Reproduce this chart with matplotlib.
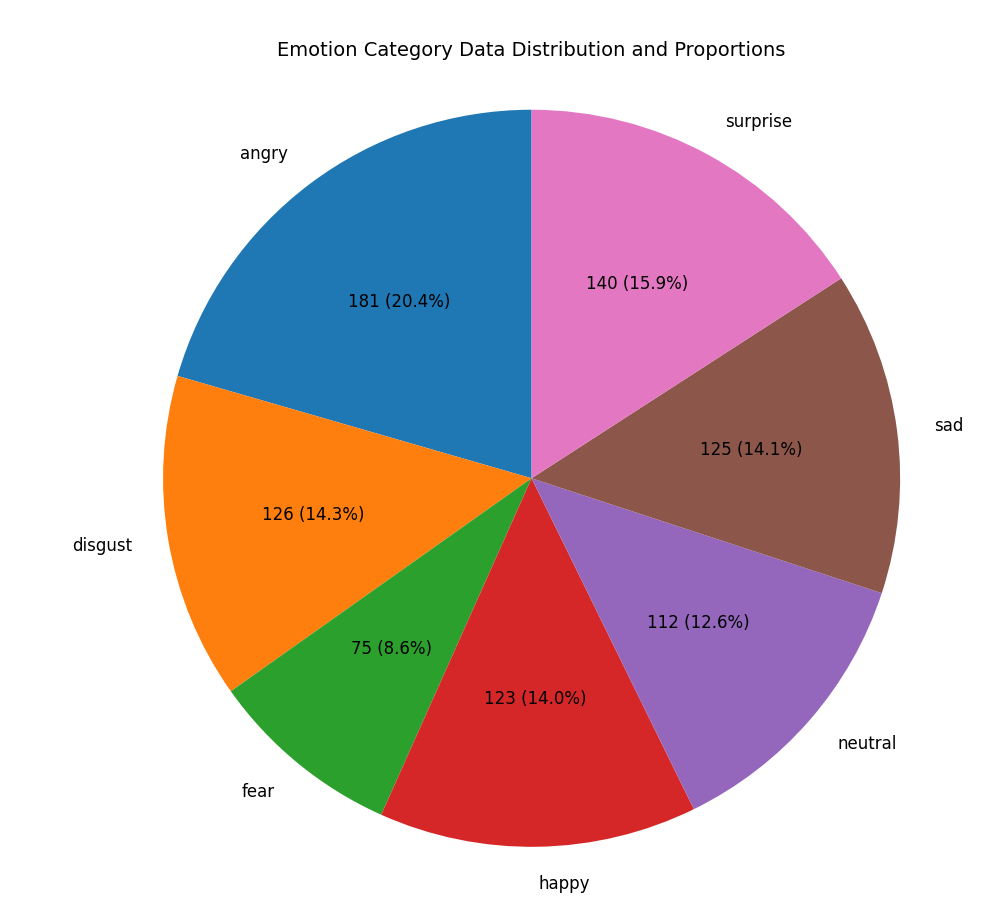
import matplotlib
matplotlib.use("Agg")
import matplotlib.pyplot as plt

categories = ["angry", "disgust", "fear", "happy", "neutral", "sad", "surprise"]
counts = [181, 126, 75, 123, 112, 125, 140]
percent_labels = ["20.4%", "14.3%", "8.6%", "14.0%", "12.6%", "14.1%", "15.9%"]
colors = ["#1f77b4", "#ff7f0e", "#2ca02c", "#d62728", "#9467bd", "#8c564b", "#e377c2"]

fig = plt.figure(figsize=(10.03, 9.11), dpi=100)
ax = fig.add_axes([0.08, 0.03, 0.90, 0.89])
it = iter(range(len(counts)))
def fmt(pct):
    i = next(it)
    return f"{counts[i]} ({percent_labels[i]})"
ax.pie(counts, labels=categories, colors=colors, startangle=90, autopct=fmt,
       textprops={"fontsize": 12})
ax.axis("equal")
ax.set_title("Emotion Category Data Distribution and Proportions", fontsize=14, pad=12)
fig.savefig("out.png", dpi=100)
